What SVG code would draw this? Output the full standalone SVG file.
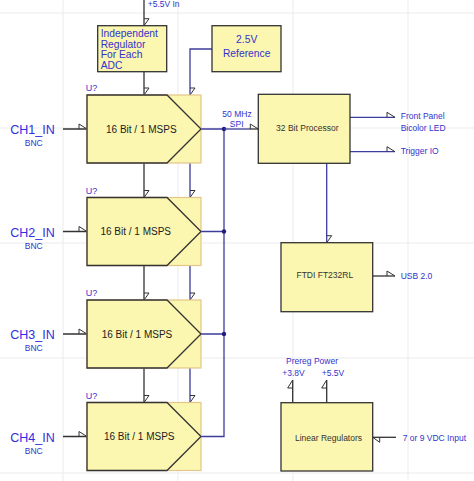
<svg xmlns="http://www.w3.org/2000/svg" xmlns:xlink="http://www.w3.org/1999/xlink" width="474" height="481" viewBox="0 0 474 481">
<style>
text{font-family:"Liberation Sans",Arial,sans-serif;}
.grid{stroke:#ebebeb;stroke-width:1;fill:none}
.box{fill:#fbf6b0;stroke:#333;stroke-width:1.3}
.adcbg{fill:#fbf6b0;stroke:#e3c68c;stroke-width:1.2}
.adc{fill:none;stroke:#333;stroke-width:1.3}
.wb{stroke:#3c3c9c;stroke-width:1.3;fill:none}
.wk{stroke:#333;stroke-width:1.3;fill:none}
.pin{stroke:#333;stroke-width:1;fill:none}
.lbl{fill:#3333cc;font-size:8.5px}
.ch{fill:#2e2ee0;font-size:12.5px}
.bnc{fill:#3333cc;font-size:8.5px}
.u{fill:#3333cc;font-size:9px}
.inner{fill:#222;font-size:10px;text-anchor:middle}
.innersm{fill:#333;font-size:8.5px;text-anchor:middle}
.blue10{fill:#3333cc;font-size:10.3px}
.dot{fill:#1e1e80}
</style>
<defs>
<path id="pinR" d="M-8,0 L-8,-5 L0,0"/>
<path id="pinD" d="M0,-7 L5,-7 L0,0"/>
<path id="pinU" d="M0,0 L-5,8 L0,8"/>
<path id="pinL" d="M0,0 L7,5 L7,0"/>
</defs>
<rect width="474" height="481" fill="#fff"/>
<g id="grid" class="grid">
<path d="M63,0V481M178,0V481M293,0V481M408,0V481M0,13H474M0,128H474M0,243H474M0,358H474M0,473H474"/>
</g>

<g id="connectors">
<!-- +5.5V in to regulator -->
<path class="wk" d="M144,0V25.7"/>
<use href="#pinD" class="pin" x="144" y="25.7"/>
<!-- regulator to ADC1 and chain at x=144 -->
<path class="wk" d="M144,71.7V95M144,163V197.5M144,265.5V300M144,368V402.5"/>
<use href="#pinD" class="pin" x="144" y="95"/>
<use href="#pinD" class="pin" x="144" y="197.5"/>
<use href="#pinD" class="pin" x="144" y="300"/>
<use href="#pinD" class="pin" x="144" y="402.5"/>
<!-- reference to ADC1 and chain at x=190 -->
<path class="wb" d="M212,49H190V95M190,163V197.5M190,265.5V300M190,368V402.5"/>
<use href="#pinD" class="pin" x="190" y="95"/>
<use href="#pinD" class="pin" x="190" y="197.5"/>
<use href="#pinD" class="pin" x="190" y="300"/>
<use href="#pinD" class="pin" x="190" y="402.5"/>
<!-- channel inputs -->
<path class="wk" d="M63,129H87M63,231.5H87M63,334H87M63,436.5H87"/>
<use href="#pinR" class="pin" x="87" y="129"/>
<use href="#pinR" class="pin" x="87" y="231.5"/>
<use href="#pinR" class="pin" x="87" y="334"/>
<use href="#pinR" class="pin" x="87" y="436.5"/>
<!-- ADC outputs to SPI bus -->
<path class="wb" d="M201,129H224M201,231.5H224M201,334H224M201,436.5H224V129"/>
<circle class="dot" cx="224" cy="129" r="2.2"/>
<circle class="dot" cx="224" cy="231.5" r="2.2"/>
<circle class="dot" cx="224" cy="334" r="2.2"/>
<!-- SPI to processor -->
<path class="wb" d="M224,129H250"/>
<path class="wk" d="M250,129H258.3"/>
<use href="#pinR" class="pin" x="258.3" y="129"/>
<!-- processor outputs -->
<path class="wb" d="M350,117.3H395M350,151.7H395"/>
<use href="#pinR" class="pin" x="395" y="117.3"/>
<use href="#pinR" class="pin" x="395" y="151.7"/>
<!-- processor to FTDI -->
<path class="wb" d="M326.7,163.3V242.7"/>
<use href="#pinD" class="pin" x="326.7" y="242.7"/>
<!-- USB -->
<path class="wk" d="M372.7,276H395"/>
<use href="#pinR" class="pin" x="395" y="276"/>
<!-- prereg power -->
<path class="wk" d="M292.7,380V402.7M326.7,380V402.7"/>
<use href="#pinU" class="pin" x="292.7" y="380"/>
<use href="#pinU" class="pin" x="326.7" y="380"/>
<!-- VDC input -->
<path class="wk" d="M396,437.3H372.7"/>
<use href="#pinL" class="pin" x="372.7" y="437.3"/>
</g>

<g id="regulator">
<rect class="box" x="97.7" y="25.7" width="69" height="46"/>
<text class="blue10" x="100.7" y="36.7">Independent</text>
<text class="blue10" x="100.7" y="47.5">Regulator</text>
<text class="blue10" x="100.7" y="58.2">For Each</text>
<text class="blue10" x="100.7" y="69">ADC</text>
</g>
<g id="reference">
<rect class="box" x="212" y="25.7" width="69" height="46"/>
<text class="blue10" x="246.7" y="43.3" text-anchor="middle">2.5V</text>
<text class="blue10" x="246.7" y="57.3" text-anchor="middle">Reference</text>
</g>
<text class="lbl" x="147.7" y="7">+5.5V In</text>

<g id="adc1">
<rect class="adcbg" x="87" y="95" width="114" height="68"/>
<polygon class="adc" points="87,95 167,95 201,129 167,163 87,163"/>
<text class="u" x="85.7" y="91">U?</text>
<text class="inner" x="141.3" y="132.5">16 Bit / 1 MSPS</text>
</g>
<g id="adc2">
<rect class="adcbg" x="87" y="197.5" width="114" height="68"/>
<polygon class="adc" points="87,197.5 167,197.5 201,231.5 167,265.5 87,265.5"/>
<text class="u" x="85.7" y="193.5">U?</text>
<text class="inner" x="135.7" y="235">16 Bit / 1 MSPS</text>
</g>
<g id="adc3">
<rect class="adcbg" x="87" y="300" width="114" height="68"/>
<polygon class="adc" points="87,300 167,300 201,334 167,368 87,368"/>
<text class="u" x="85.7" y="296">U?</text>
<text class="inner" x="137" y="337.7">16 Bit / 1 MSPS</text>
</g>
<g id="adc4">
<rect class="adcbg" x="87" y="402.5" width="114" height="68"/>
<polygon class="adc" points="87,402.5 167,402.5 201,436.5 167,470.5 87,470.5"/>
<text class="u" x="85.7" y="398.5">U?</text>
<text class="inner" x="139.2" y="440.2">16 Bit / 1 MSPS</text>
</g>

<g id="ch1"><text class="ch" x="32.5" y="134" text-anchor="middle">CH1_IN</text><text class="bnc" x="33.7" y="146" text-anchor="middle">BNC</text></g>
<g id="ch2"><text class="ch" x="32.5" y="236.5" text-anchor="middle">CH2_IN</text><text class="bnc" x="33.7" y="248.5" text-anchor="middle">BNC</text></g>
<g id="ch3"><text class="ch" x="32.5" y="339" text-anchor="middle">CH3_IN</text><text class="bnc" x="33.7" y="351" text-anchor="middle">BNC</text></g>
<g id="ch4"><text class="ch" x="32.5" y="441.5" text-anchor="middle">CH4_IN</text><text class="bnc" x="33.7" y="453.5" text-anchor="middle">BNC</text></g>

<text class="lbl" x="237" y="117.3" text-anchor="middle">50 MHz</text>
<text class="lbl" x="236.7" y="126.7" text-anchor="middle">SPI</text>

<g id="processor">
<rect class="box" x="258.3" y="94.3" width="91.7" height="69"/>
<text class="innersm" x="307.3" y="130.7">32 Bit Processor</text>
</g>
<text class="lbl" x="400.7" y="119.3">Front Panel</text>
<text class="lbl" x="400.7" y="130.7">Bicolor LED</text>
<text class="lbl" x="400.7" y="153.5">Trigger IO</text>

<g id="ftdi">
<rect class="box" x="281" y="242.7" width="91.7" height="69"/>
<text class="innersm" x="324.8" y="278.3">FTDI FT232RL</text>
</g>
<text class="lbl" x="400.7" y="279.3">USB 2.0</text>

<g id="linreg">
<rect class="box" x="281" y="402.7" width="91.7" height="68.3"/>
<text class="innersm" x="328.5" y="440.7">Linear Regulators</text>
</g>
<text class="lbl" x="312" y="364" text-anchor="middle">Prereg Power</text>
<text class="lbl" x="282.3" y="376">+3.8V</text>
<text class="lbl" x="321.7" y="376">+5.5V</text>
<text class="lbl" x="402.7" y="440.7">7 or 9 VDC Input</text>
</svg>
